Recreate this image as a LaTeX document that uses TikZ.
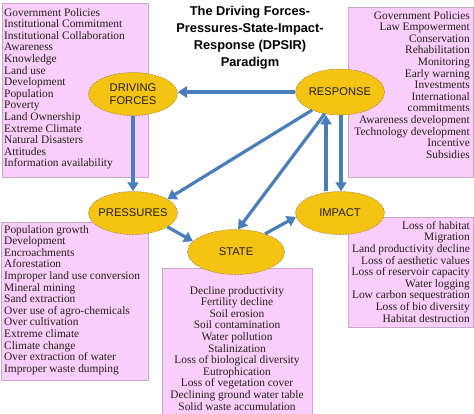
\documentclass[tikz,border=0pt]{standalone}
\usepackage{fontspec}
\setmainfont{Liberation Serif}
\newfontfamily\arialfont{Liberation Sans}
\usetikzlibrary{shapes.geometric,arrows.meta,calc}
\definecolor{pinkfill}{RGB}{250,206,250}
\definecolor{pinkline}{RGB}{200,170,200}
\definecolor{gold}{RGB}{245,196,18}
\definecolor{goldline}{RGB}{165,130,60}
\definecolor{arrowblue}{RGB}{74,126,187}
\definecolor{ink}{RGB}{35,30,25}
\tikzset{
  listbox/.style={draw=pinkline, fill=pinkfill, line width=0.5pt, inner sep=0pt},
  listtext/.style={inner sep=0pt, text=ink, font=\fontsize{11.4}{11.6}\selectfont},
  ell/.style={ellipse, fill=gold, draw=goldline, dash pattern=on 2pt off 1pt, line width=0.5pt,
    minimum width=89pt, minimum height=43pt, inner xsep=-8pt, inner ysep=0pt, align=center,
    text=ink, font=\arialfont\fontsize{11.2}{13}\selectfont},
  arr/.style={draw=arrowblue, line width=3.2pt, -{Triangle[length=9pt,width=11pt]}},
  titletext/.style={align=center, inner sep=0pt, font=\arialfont\bfseries\fontsize{12.8}{17}\selectfont}
}
\begin{document}
\begin{tikzpicture}[x=1pt,y=-1pt]
\useasboundingbox (0,0) rectangle (474,413);
% list boxes
\node[listbox, minimum width=146pt, minimum height=174pt, anchor=north west] (dfbox) at (2,3) {};
\node[listbox, minimum width=125pt, minimum height=170pt, anchor=north west] (rbox) at (348,7) {};
\node[listbox, minimum width=147pt, minimum height=158pt, anchor=north west] (pbox) at (1,222) {};
\node[listbox, minimum width=150pt, minimum height=147pt, anchor=north west] (sbox) at (162,268) {};
\node[listbox, minimum width=125pt, minimum height=110pt, anchor=north west] (ibox) at (348,217) {};
% list texts
\node[listtext, align=left, anchor=north west] (dftext) at (4,8) {Government Policies\\Institutional Commitment\\Institutional Collaboration\\Awareness\\Knowledge\\Land use\\Development\\Population\\Poverty\\Land Ownership\\Extreme Climate\\Natural Disasters\\Attitudes\\Information availability};
\node[listtext, align=right, anchor=north east] (rtext) at (470,11) {Government Policies\\Law Empowerment\\Conservation\\Rehabilitation\\Monitoring\\Early warning\\Investments\\International\\commitments\\Awareness development\\Technology development\\Incentive\\Subsidies};
\node[listtext, align=left, anchor=north west] (ptext) at (4,225) {Population growth\\Development\\Encroachments\\Aforestation\\Improper land use conversion\\Mineral mining\\Sand extraction\\Over use of agro-chemicals\\Over cultivation\\Extreme climate\\Climate change\\Over extraction of water\\Improper waste dumping};
\node[listtext, align=center, anchor=north] (stext) at (237,286) {Decline productivity\\Fertility decline\\Soil erosion\\Soil contamination\\Water pollution\\Stalinization\\Loss of biological diversity\\Eutrophication\\Loss of vegetation cover\\Declining ground water table\\Solid waste accumulation};
\node[listtext, align=right, anchor=north east] (itext) at (470,221) {Loss of habitat\\Migration\\Land productivity decline\\Loss of aesthetic values\\Loss of reservoir capacity\\Water logging\\Low carbon sequestration\\Loss of bio diversity\\Habitat destruction};
% title
\node[titletext] (title) at (250,38) {The Driving Forces-\\Pressures-State-Impact-\\Response (DPSIR)\\Paradigm};
% ellipses
\node[ell] (drive) at (133,94) {DRIVING\\FORCES};
\node[ell, minimum height=46pt] (resp) at (340,92) {RESPONSE};
\node[ell] (press) at (133,213) {PRESSURES};
\node[ell] (imp) at (340,213) {IMPACT};
\node[ell, minimum width=97pt, minimum height=45pt] (state) at (236,252) {STATE};
% arrows
\draw[arr] (resp.west) -- (resp.west -| drive.east);
\draw[arr] (drive.south) -- (press.north);
\draw[arr] (resp.213) -- (press.22);
\draw[arr] (resp.235) -- (state.85);
\draw[arr] ([xshift=-14pt]imp.north) -- ([xshift=-14pt]resp.south);
\draw[arr] ([xshift=1pt]resp.south) -- ([xshift=1pt]imp.north);
\draw[arr] (press.-22) -- (state.166);
\draw[arr] (state.32) -- (imp.185);
\end{tikzpicture}
\end{document}
